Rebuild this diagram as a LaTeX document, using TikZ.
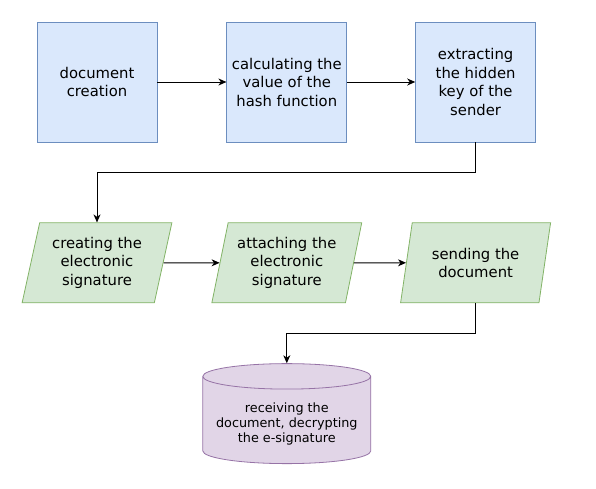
\documentclass[tikz,border=0pt]{standalone}
\usepackage{fontspec}
\setmainfont{DejaVu Sans}
\usepackage{tikz}
\usetikzlibrary{positioning,shapes.geometric,arrows.meta}

\definecolor{bluefill}{HTML}{DAE8FC}
\definecolor{blueline}{HTML}{6C8EBF}
\definecolor{greenfill}{HTML}{D5E8D4}
\definecolor{greenline}{HTML}{82B366}
\definecolor{purplefill}{HTML}{E1D5E7}
\definecolor{purpleline}{HTML}{9673A6}

\begin{document}
\begin{tikzpicture}
  [
      x=1pt, y=-1pt,
      >={Stealth[length=8pt, width=7pt, inset=2.5pt]},
      every node/.style={font=\fontsize{14.8}{18.5}\selectfont, align=center, inner sep=0pt},
      stepbox/.style={rectangle, draw=blueline, fill=bluefill, line width=0.8pt, minimum width=120pt, minimum height=120pt},
      iobox/.style={trapezium, trapezium left angle=75, trapezium right angle=105, trapezium stretches=true, draw=greenline, fill=greenfill, line width=0.8pt, minimum width=150pt, minimum height=80pt},
      storebox/.style={cylinder, shape border rotate=90, aspect=0.18, draw=purpleline, fill=purplefill, line width=0.8pt, minimum width=168pt, minimum height=100pt, font=\fontsize{12.8}{15}\selectfont},
      flow/.style={->, line width=0.9pt},
    ]
    \useasboundingbox (0,0) rectangle (596,489);

    \node (doc) [stepbox] at (97,82) {document\\creation};
    \node (hash) [right=69pt of doc, stepbox] {calculating the\\value of the\\hash function};
    \node (key) [right=68pt of hash, stepbox] {extracting\\the hidden\\key of the\\sender};

    \node (create) [below=80pt of doc, iobox] {creating the\\electronic\\signature};
    \node (attach) [below=80pt of hash, iobox] {attaching the\\electronic\\signature};
    \node (send) [below=80pt of key, iobox] {sending the\\document};

    \node (receive) [below=60pt of attach, storebox] {\\[2pt]receiving the\\document, decrypting\\the e-signature};

      \draw [flow] (doc) -- (hash);
      \draw [flow] (hash) -- (key);
      \draw [flow] (key.south) -- ++(0,30) -| (create.north);
      \draw [flow] (create) -- (attach);
      \draw [flow] (attach) -- (send);
      \draw [flow] (send.south) -- ++(0,30) -| (receive.north);

  \end{tikzpicture}
\end{document}
